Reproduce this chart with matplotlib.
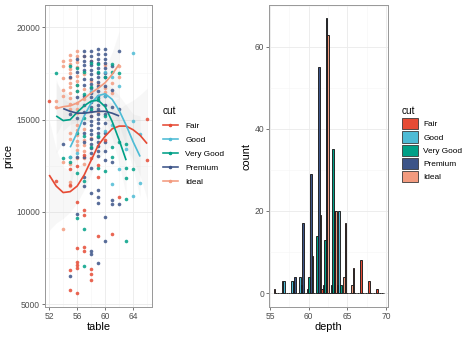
import numpy as np
import matplotlib
matplotlib.use('Agg')
from matplotlib import pyplot as plt
from matplotlib.lines import Line2D
from matplotlib.patches import Patch

plt.rcParams['font.family'] = ['Liberation Sans', 'DejaVu Sans']

cuts = ['Fair', 'Good', 'Very Good', 'Premium', 'Ideal']
colors = ['#E64B35', '#4DBBD5', '#00A087', '#3C5488', '#F39B7F']

# ---- left panel: price vs table
fair_table = [52, 53, 55, 55, 55, 56, 56, 56, 56, 56, 56, 56, 57, 57, 57, 57, 57,
              58, 58, 58, 58, 59, 59, 59, 61, 62, 66, 66, 55, 60]
fair_price = [16000, 11700, 12300, 6850, 5750, 10550, 8050, 7300, 7100, 6950, 5600, 12500,
              10100, 9830, 8100, 7900, 13100, 12900, 6900, 6650, 6300, 12550, 11900, 8700,
              8800, 10800, 15050, 12800, 11450, 13900]

good_table = [55, 56, 58, 60, 60, 60, 61, 61, 61, 62, 62, 63, 64, 64, 64, 65, 65]
good_price = [13000, 13200, 16550, 17600, 16300, 14400, 17300, 14700, 11500, 16800, 12300,
              13400, 18600, 14900, 10850, 11550, 14200]

vgood_table = [53, 54, 55, 55, 55, 56, 56, 56, 56, 56, 56, 57, 57, 57, 57, 57, 57, 57,
               58, 58, 58, 58, 59, 59, 59, 59, 59, 60, 60, 60, 61, 61, 61, 61, 62, 62,
               63, 63, 63, 63, 63, 64]
vgood_price = [17500, 12900, 17900, 12950, 12700, 17800, 16900, 16550, 14300, 12100, 9650,
               17600, 16400, 15100, 14100, 11700, 7050, 9050, 18050, 16750, 15600, 13500,
               18000, 17600, 16150, 14100, 12400, 17300, 15200, 12200, 18000, 17600, 13500,
               13000, 17500, 13800, 12400, 11850, 10700, 8450, 13700, 12300]

premium_table = [54, 55, 55, 55, 56, 56, 56, 56, 56, 56] + [57] * 16 + [58] * 27 + [59] * 28 + \
                [60] * 18 + [61] * 6 + [62] * 3
premium_price = [13700, 17300, 15300, 6550, 18300, 17600, 16200, 15100, 13000, 9900,
                 18700, 18450, 18200, 17950, 17700, 17200, 16900, 16300, 15800, 15400, 14800,
                 14300, 13800, 13000, 11900, 11400,
                 18700, 18450, 18200, 17950, 17700, 17450, 17200, 16950, 16700, 16450, 16200,
                 15950, 15700, 15450, 15200, 14950, 14700, 14450, 14200, 13950, 13700, 13450,
                 13200, 12400, 11000, 7900, 7700,
                 18800, 18550, 18300, 18050, 17800, 17550, 17300, 17050, 16800, 16550, 16300,
                 16050, 15800, 15550, 15300, 15050, 14800, 14550, 14300, 14050, 13800, 13550,
                 13300, 13050, 11200, 10800, 10500, 7250,
                 18800, 18550, 18300, 18050, 17800, 17550, 17300, 16800, 16300, 15800, 15300,
                 14800, 14300, 13800, 13300, 12800, 9750, 8450,
                 17900, 16600, 15700, 12700, 10650, 10450,
                 18700, 15600, 10450]

ideal_table = [53, 53] + [54] * 7 + [55] * 17 + [56] * 18 + [57] * 10 + [58] * 4 + \
              [59] * 2 + [60] * 3 + [61] * 2 + [62] * 2
ideal_price = [16000, 15700,
               18200, 17900, 17250, 16600, 16300, 12700, 9100,
               18500, 18250, 18000, 17750, 17500, 17250, 17000, 16750, 16450, 16150, 15850,
               15550, 14250, 13950, 12600, 11600, 11400,
               18700, 18450, 18100, 17850, 17350, 17100, 16850, 16550, 15900, 15600, 15350,
               14700, 14450, 14150, 13850, 13600, 13350, 12900,
               18450, 17450, 16650, 16100, 14500, 13900, 13600, 13300, 12900, 12600,
               18200, 17100, 15200, 14000,
               16950, 15400,
               17950, 16700, 16500,
               16450, 17000,
               17900, 17300]

# loess curves and their standard errors, read every 1 unit of table
fair_line_x = [52, 53, 54, 55, 56, 57, 58, 59, 60, 61, 62, 63, 64, 65, 66]
fair_line_y = [12000, 11400, 11050, 11100, 11400, 12000, 12800, 13600, 14100, 14500, 14650,
               14650, 14450, 14150, 13700]
fair_se = [3000, 2000, 1400, 1100, 900, 800, 750, 750, 800, 850, 950, 1200, 1600, 2200, 3000]

good_line_x = [55, 56, 57, 58, 59, 60, 61, 62, 63, 64, 65]
good_line_y = [13500, 14300, 15200, 15900, 16300, 16400, 16100, 15500, 14700, 13800, 13000]
good_se = [2200, 1300, 900, 700, 600, 600, 650, 800, 1100, 1500, 2200]

vgood_line_x = [53, 54, 55, 56, 57, 58, 59, 60, 61, 62, 63]
vgood_line_y = [15200, 14950, 15000, 15400, 15750, 16000, 16050, 15700, 14900, 13900, 12800]
vgood_se = [2000, 1200, 900, 700, 600, 550, 600, 700, 900, 1300, 1900]

premium_line_x = [54, 55, 56, 57, 58, 59, 60, 61, 62]
premium_line_y = [15600, 15450, 15350, 15350, 15400, 15450, 15450, 15350, 15200]
premium_se = [1200, 700, 500, 400, 350, 350, 400, 600, 1000]

ideal_line_x = [53, 54, 55, 56, 57, 58, 59, 60, 61, 62]
ideal_line_y = [15600, 15700, 15750, 15900, 16150, 16450, 16700, 17000, 17450, 18000]
ideal_se = [1400, 800, 550, 400, 350, 400, 550, 800, 1200, 1800]

# ---- right panel: dodged histogram of depth
bin_centers = [56.0, 57.02, 58.04, 59.06, 60.08, 61.1, 62.12, 63.14, 64.16, 65.18,
               66.2, 67.22, 68.24, 69.26]
fair_count = [1, 3, 0, 0, 0, 0, 1, 0, 2, 17, 6, 8, 3, 1]
good_count = [0, 3, 3, 4, 1, 0, 2, 2, 20, 0, 0, 0, 0, 0]
vgood_count = [0, 0, 3, 2, 4, 14, 13, 35, 2, 0, 0, 0, 0, 0]
premium_count = [0, 0, 4, 17, 29, 55, 67, 20, 0, 0, 0, 0, 0, 0]
ideal_count = [0, 0, 0, 0, 9, 19, 63, 20, 4, 2, 0, 0, 0, 0]

W, H = 474, 338
fig = plt.figure(figsize=(W / 72, H / 72), dpi=72)
ax1 = fig.add_axes([45 / W, 1 - 307 / H, 107 / W, 302 / H])
ax2 = fig.add_axes([269 / W, 1 - 307 / H, 119 / W, 302 / H])


def style_axes(ax):
    ax.set_facecolor('white')
    ax.grid(True, which='major', color='#EBEBEB', linewidth=0.9)
    ax.grid(True, which='minor', color='#F4F4F4', linewidth=0.5)
    ax.set_axisbelow(True)
    for s in ax.spines.values():
        s.set_color('#9A9A9A')
        s.set_linewidth(1.0)
    ax.tick_params(which='major', length=3, width=0.8, color='#555555',
                   labelsize=8.5, labelcolor='#4D4D4D', pad=2)
    ax.tick_params(which='minor', length=0)


# left plot
points = [(ideal_table, ideal_price, 4), (premium_table, premium_price, 3),
          (vgood_table, vgood_price, 2), (good_table, good_price, 1),
          (fair_table, fair_price, 0)]
for tx, py, i in points:
    ax1.scatter(tx, py, s=13, color=colors[i], alpha=0.85, linewidths=0, zorder=3)

lines = [(fair_line_x, fair_line_y, fair_se, 0), (good_line_x, good_line_y, good_se, 1),
         (vgood_line_x, vgood_line_y, vgood_se, 2),
         (premium_line_x, premium_line_y, premium_se, 3),
         (ideal_line_x, ideal_line_y, ideal_se, 4)]
for lx, ly, se, i in lines:
    ly = np.array(ly)
    se = np.array(se)
    ax1.fill_between(lx, ly - se, ly + se, color='#999999', alpha=0.07, linewidth=0, zorder=2)
for lx, ly, se, i in lines:
    ax1.plot(lx, ly, color=colors[i], linewidth=1.7, zorder=4, solid_capstyle='butt')

ax1.set_xlim(51.4, 66.7)
ax1.set_ylim(4850, 21210)
ax1.set_xticks([52, 56, 60, 64])
ax1.set_xticks([54, 58, 62, 66], minor=True)
ax1.set_yticks([5000, 10000, 15000, 20000])
ax1.set_yticks([7500, 12500, 17500], minor=True)
style_axes(ax1)
ax1.set_xlabel('table', fontsize=11, labelpad=1)
ax1.set_ylabel('price', fontsize=11, labelpad=3)

h1 = [Line2D([0], [0], color=c, linewidth=1.6, marker='o', markersize=2.5) for c in colors]
leg1 = fig.legend(h1, cuts, title='cut', loc='upper left',
                  bbox_to_anchor=(163 / W, 1 - 106 / H), frameon=False, fontsize=8.3,
                  title_fontsize=10, alignment='left', handlelength=1.8,
                  handletextpad=0.9, labelspacing=0.75, borderpad=0, borderaxespad=0)

# right plot
width = 0.204
all_counts = [fair_count, good_count, vgood_count, premium_count, ideal_count]
for i, cnt in enumerate(all_counts):
    xs = np.array(bin_centers) + (i - 2) * width
    ax2.bar(xs, cnt, width=width, color=colors[i], edgecolor='#1a1a1a', linewidth=0.9,
            zorder=3)

ax2.set_xlim(54.87, 70.27)
ax2.set_ylim(-3.4, 70.2)
ax2.set_xticks([55, 60, 65, 70])
ax2.set_xticks([57.5, 62.5, 67.5], minor=True)
ax2.set_yticks([0, 20, 40, 60])
ax2.set_yticks([10, 30, 50, 70], minor=True)
style_axes(ax2)
ax2.set_xlabel('depth', fontsize=11, labelpad=1)
ax2.set_ylabel('count', fontsize=11, labelpad=3)

h2 = [Patch(facecolor=c, edgecolor='#333333', linewidth=0.8) for c in colors]
leg2 = fig.legend(h2, cuts, title='cut', loc='upper left',
                  bbox_to_anchor=(402 / W, 1 - 106 / H), frameon=False, fontsize=8.3,
                  title_fontsize=10, alignment='left', handlelength=1.95, handleheight=1.7,
                  handletextpad=0.6, labelspacing=0.25, borderpad=0, borderaxespad=0)

fig.savefig('out.png', dpi=72, facecolor='white')
